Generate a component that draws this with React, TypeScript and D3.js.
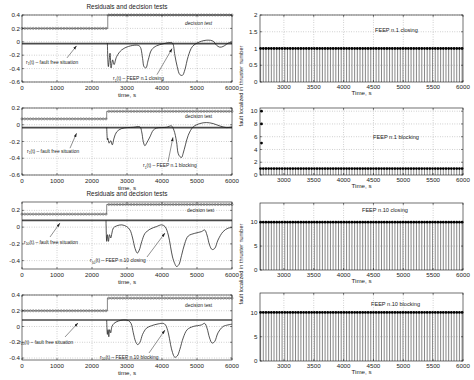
import React from 'react';
import * as d3 from 'd3';

const FONT = '"Liberation Sans", Arial, Helvetica, sans-serif';

// ---------- data ----------
const leftTimeTicks = [0, 1000, 2000, 3000, 4000, 5000, 6000];
const rightTimeTicks = [3000, 3500, 4000, 4500, 5000, 5500, 6000];

const r1Closing: [number, number][] = [
  [2440, -0.02], [2468, -0.37], [2515, -0.17], [2545, -0.39], [2590, -0.27], [2630, -0.34],
  [2705, -0.22], [2850, -0.12], [3040, -0.07], [3275, -0.05], [3370, -0.07], [3446, -0.25],
  [3485, -0.37], [3540, -0.39], [3607, -0.27], [3702, -0.12], [3845, -0.06], [4035, -0.03],
  [4225, -0.01], [4300, -0.02], [4367, -0.2], [4434, -0.37], [4510, -0.49], [4585, -0.5],
  [4652, -0.42], [4747, -0.22], [4870, -0.07], [5080, 0.0], [5316, 0.025], [5460, 0.01],
  [5555, -0.05], [5650, -0.08], [5745, -0.07], [5935, -0.01], [6000, -0.02],
];

const r1Blocking: [number, number][] = [
  [2420, -0.03], [2440, -0.18], [2450, -0.16], [2490, -0.22], [2535, -0.19], [2580, -0.24],
  [2630, -0.16], [2705, -0.085], [2850, -0.045], [3180, -0.03], [3370, -0.026], [3420, -0.085],
  [3465, -0.2], [3510, -0.25], [3560, -0.22], [3655, -0.145], [3750, -0.065], [3845, -0.04],
  [4130, -0.03], [4270, -0.014], [4340, -0.065], [4415, -0.2], [4460, -0.34], [4510, -0.38],
  [4560, -0.39], [4605, -0.34], [4670, -0.24], [4750, -0.125], [4890, -0.026], [5080, 0.014],
  [5270, 0.026], [5460, 0.014], [5650, -0.014], [5840, -0.034], [6000, -0.026],
];

const r10Closing: [number, number][] = [
  [2400, 0.08], [2420, -0.17], [2440, -0.09], [2470, -0.17], [2500, -0.09], [2535, -0.13],
  [2570, -0.07], [2610, -0.01], [2705, 0.015], [2850, 0.027], [2990, 0.007], [3085, -0.034],
  [3160, -0.13], [3230, -0.255], [3295, -0.31], [3350, -0.275], [3420, -0.175], [3515, -0.074],
  [3655, -0.025], [3845, 0.007], [3990, 0.027], [4085, 0.007], [4180, -0.094], [4245, -0.235],
  [4300, -0.356], [4365, -0.436], [4415, -0.47], [4480, -0.45], [4560, -0.336], [4650, -0.195],
  [4750, -0.106], [4935, -0.074], [5125, -0.054], [5220, -0.034], [5285, -0.094], [5360, -0.215],
  [5430, -0.267], [5505, -0.255], [5600, -0.154], [5745, -0.054], [5885, -0.013], [6000, -0.005],
];

const r10Blocking: [number, number][] = [
  [2420, 0.08], [2440, -0.1], [2460, -0.04], [2480, -0.13], [2505, -0.04], [2535, -0.08],
  [2570, 0.0], [2630, 0.04], [2755, 0.07], [2900, 0.083], [3040, 0.075], [3115, 0.04],
  [3180, -0.08], [3245, -0.19], [3305, -0.23], [3370, -0.2], [3445, -0.1], [3560, -0.02],
  [3700, 0.01], [3890, 0.033], [4035, 0.04], [4100, 0.02], [4180, -0.08], [4245, -0.23],
  [4300, -0.33], [4365, -0.39], [4435, -0.375], [4510, -0.29], [4605, -0.145], [4720, -0.04],
  [4890, 0.0], [5125, 0.02], [5220, 0.04], [5285, -0.02], [5360, -0.145], [5430, -0.21],
  [5505, -0.19], [5600, -0.08], [5745, 0.0], [5885, 0.02], [6000, 0.03],
];

const decisionBefore = [0.2, 0.07, 0.155, 0.2];
const decisionAfter = [0.4, 0.16, 0.27, 0.36];
const decisionStep = [2450, 2420, 2420, 2440];
const faultFreeLevel = [-0.027, -0.034, 0.08, 0.083];

const decisionSampleTimes = [
  0, 80, 160, 240, 320, 400, 480, 560, 640, 720, 800, 880, 960, 1040, 1120, 1200, 1280, 1360,
  1440, 1520, 1600, 1680, 1760, 1840, 1920, 2000, 2080, 2160, 2240, 2320, 2400, 2480, 2560,
  2640, 2720, 2800, 2880, 2960, 3040, 3120, 3200, 3280, 3360, 3440, 3520, 3600, 3680, 3760,
  3840, 3920, 4000, 4080, 4160, 4240, 4320, 4400, 4480, 4560, 4640, 4720, 4800, 4880, 4960,
  5040, 5120, 5200, 5280, 5360, 5440, 5520, 5600, 5680, 5760, 5840, 5920, 6000,
];

const stemTimes = [
  2610, 2655, 2700, 2745, 2790, 2835, 2880, 2925, 2970, 3015, 3060, 3105, 3150, 3195, 3240,
  3285, 3330, 3375, 3420, 3465, 3510, 3555, 3600, 3645, 3690, 3735, 3780, 3825, 3870, 3915,
  3960, 4005, 4050, 4095, 4140, 4185, 4230, 4275, 4320, 4365, 4410, 4455, 4500, 4545, 4590,
  4635, 4680, 4725, 4770, 4815, 4860, 4905, 4950, 4995, 5040, 5085, 5130, 5175, 5220, 5265,
  5310, 5355, 5400, 5445, 5490, 5535, 5580, 5625, 5670, 5715, 5760, 5805, 5850, 5895, 5940, 5985,
];
const localizedThruster = [1, 1, 10, 10];
const blockingEarlyDetections: [number, number][] = [[2625, 10], [2625, 8], [2625, 5]];

const rightLabels = ['FEEP n.1 closing', 'FEEP n.1 blocking', 'FEEP n.10 closing', 'FEEP n.10 blocking'];

// ---------- layout (styles) ----------
const leftX = d3.scaleLinear().domain([0, 6000]).range([22, 232]);
const rightX = d3.scaleLinear().domain([2600, 6000]).range([260, 463]);

const leftPanels = [
  { top: 15, bottom: 82, domain: [-0.6, 0.4], ticks: [-0.6, -0.4, -0.2, 0, 0.2, 0.4], curve: r1Closing, sub: '1',
    ffText: [114, -0.3], ffArrow: [[1286, -0.24], [1560, -0.06]],
    fText: [2600, -0.55], fLabel: ' – FEEP n.1 closing', fArrow: [[3857, -0.49], [4290, -0.1]],
    dText: [4657, 0.28], italic: true, title: 'Residuals and decision tests' },
  { top: 108, bottom: 175, domain: [-0.6, 0.2], ticks: [-0.6, -0.4, -0.2, 0, 0.2], curve: r1Blocking, sub: '1',
    ffText: [143, -0.315], ffArrow: [[1371, -0.28], [1560, -0.1]],
    fText: [3457, -0.49], fLabel: ' – FEEP n.1 blocking', fArrow: [[4171, -0.445], [4314, -0.15]],
    dText: [4657, 0.1], italic: false, title: '' },
  { top: 202, bottom: 269, domain: [-0.5, 0.3], ticks: [-0.4, -0.2, 0, 0.2], curve: r10Closing, sub: '10',
    ffText: [57, -0.178], ffArrow: [[800, -0.118], [1086, 0.05]],
    fText: [1943, -0.4], fLabel: ' – FEEP n.10 closing', fArrow: [[3571, -0.357], [4086, -0.07]],
    dText: [4714, 0.2], italic: false, title: 'Residuals and decision tests' },
  { top: 295, bottom: 360, domain: [-0.425, 0.4], ticks: [-0.4, -0.2, 0, 0.2, 0.4], curve: r10Blocking, sub: '10',
    ffText: [-80, -0.196], ffArrow: [[1229, -0.133], [1600, 0.045]],
    fText: [2229, -0.387], fLabel: ' – FEEP n.10 blocking', fArrow: [[3629, -0.336], [4086, -0.044]],
    dText: [4657, 0.27], italic: false, title: '' },
];

const rightPanels = [
  { top: 15, bottom: 82, domain: [0, 2], ticks: [0, 0.5, 1, 1.5, 2], label: [4526, 1.55] },
  { top: 108, bottom: 175, domain: [0, 10.5], ticks: [0, 2, 4, 6, 8, 10], label: [4493, 5.95] },
  { top: 203, bottom: 270, domain: [0, 14], ticks: [0, 5, 10], label: [4308, 12.5] },
  { top: 293, bottom: 361, domain: [0, 14], ticks: [0, 5, 10], label: [4459, 11.7] },
];

const TICK_FS = 6.2;
const ANN_FS = 4.9;
const GRID = { stroke: '#8a8a8a', strokeWidth: 0.5, strokeDasharray: '0.8 1.6' };

function LeftPanel({ p, i }: { p: any; i: number }) {
  const y = d3.scaleLinear().domain(p.domain).range([p.bottom, p.top]);
  const x = leftX;
  const line = d3.line<[number, number]>().x(d => x(d[0])).y(d => y(d[1])).curve(d3.curveCatmullRom.alpha(0.5));
  const step = decisionStep[i];
  const dPath = d3.line<[number, number]>().x(d => x(d[0])).y(d => y(d[1]))([
    [0, decisionBefore[i]], [step, decisionBefore[i]], [step, decisionAfter[i]], [6000, decisionAfter[i]],
  ]);
  const [x0, x1] = x.range();
  const cx = (x0 + x1) / 2;
  return (
    <g>
      {p.title && (
        <text x={cx} y={p.top - 6} textAnchor="middle" fontSize={6.4} fill="#222">{p.title}</text>
      )}
      {leftTimeTicks.slice(1, -1).map(t => (
        <line key={'gx' + t} x1={x(t)} x2={x(t)} y1={p.top} y2={p.bottom} {...GRID} />
      ))}
      {p.ticks.map((v: number) => (
        <line key={'gy' + v} x1={x0} x2={x1} y1={y(v)} y2={y(v)} {...GRID} />
      ))}
      <line x1={x0} x2={x1} y1={y(faultFreeLevel[i])} y2={y(faultFreeLevel[i])} stroke="#4a4a4a" strokeWidth={1.7} />
      <path d={dPath || ''} fill="none" stroke="#555" strokeWidth={0.7} />
      {decisionSampleTimes.map(t => (
        <circle key={'dm' + t} cx={x(t)} cy={y(t < step ? decisionBefore[i] : decisionAfter[i])} r={1.1}
          fill="none" stroke="#555" strokeWidth={0.5} />
      ))}
      <path d={line(p.curve) || ''} fill="none" stroke="#1a1a1a" strokeWidth={0.75} />
      <rect x={x0} y={p.top} width={x1 - x0} height={p.bottom - p.top} fill="none" stroke="#111" strokeWidth={0.6} />
      {leftTimeTicks.map(t => (
        <g key={'xt' + t}>
          <line x1={x(t)} x2={x(t)} y1={p.bottom} y2={p.bottom - 2} stroke="#111" strokeWidth={0.5} />
          <line x1={x(t)} x2={x(t)} y1={p.top} y2={p.top + 2} stroke="#111" strokeWidth={0.5} />
          <text x={x(t)} y={p.bottom + 7.5} textAnchor="middle" fontSize={TICK_FS} fill="#222">{t}</text>
        </g>
      ))}
      {p.ticks.map((v: number) => (
        <g key={'yt' + v}>
          <line x1={x0} x2={x0 + 2} y1={y(v)} y2={y(v)} stroke="#111" strokeWidth={0.5} />
          <line x1={x1} x2={x1 - 2} y1={y(v)} y2={y(v)} stroke="#111" strokeWidth={0.5} />
          <text x={x0 - 2} y={y(v) + 2.1} textAnchor="end" fontSize={TICK_FS} fill="#222">{String(v)}</text>
        </g>
      ))}
      <text x={cx} y={p.bottom + 14.5} textAnchor="middle" fontSize={TICK_FS} fill="#222">time, s</text>
      <text x={x(p.ffText[0])} y={y(p.ffText[1]) + 1.7} fontSize={ANN_FS} fill="#222">
        r<tspan fontSize={3.4} dy={1.2}>{p.sub}</tspan><tspan dy={-1.2}>(t) – fault free situation</tspan>
      </text>
      <line x1={x(p.ffArrow[0][0])} y1={y(p.ffArrow[0][1])} x2={x(p.ffArrow[1][0])} y2={y(p.ffArrow[1][1])}
        stroke="#222" strokeWidth={0.5} markerEnd="url(#arrow)" />
      <text x={x(p.fText[0])} y={y(p.fText[1]) + 1.7} fontSize={ANN_FS} fill="#222">
        r<tspan fontSize={3.4} dy={1.2}>{p.sub}</tspan><tspan dy={-1.2}>(t){p.fLabel}</tspan>
      </text>
      <line x1={x(p.fArrow[0][0])} y1={y(p.fArrow[0][1])} x2={x(p.fArrow[1][0])} y2={y(p.fArrow[1][1])}
        stroke="#222" strokeWidth={0.5} markerEnd="url(#arrow)" />
      <text x={x(p.dText[0])} y={y(p.dText[1]) + 1.7} fontSize={ANN_FS} fill="#222"
        fontStyle={p.italic ? 'italic' : 'normal'}>decision test</text>
    </g>
  );
}

function RightPanel({ p, i }: { p: any; i: number }) {
  const y = d3.scaleLinear().domain(p.domain).range([p.bottom, p.top]);
  const x = rightX;
  const [x0, x1] = x.range();
  const cx = (x0 + x1) / 2;
  const level = localizedThruster[i];
  const extra = i === 1 ? blockingEarlyDetections : [];
  return (
    <g>
      {rightTimeTicks.slice(0, -1).map(t => (
        <line key={'gx' + t} x1={x(t)} x2={x(t)} y1={p.top} y2={p.bottom} {...GRID} />
      ))}
      {p.ticks.slice(1).map((v: number) => (
        <line key={'gy' + v} x1={x0} x2={x1} y1={y(v)} y2={y(v)} {...GRID} />
      ))}
      {stemTimes.map(t => (
        <line key={'st' + t} x1={x(t)} x2={x(t)} y1={y(0)} y2={y(level)} stroke="#555" strokeWidth={0.7} />
      ))}
      {stemTimes.map(t => (
        <circle key={'sm' + t} cx={x(t)} cy={y(level)} r={1.4} fill="#000" />
      ))}
      {extra.map((d, k) => (
        <circle key={'ex' + k} cx={x(d[0])} cy={y(d[1])} r={1.4} fill="#000" />
      ))}
      <rect x={x0} y={p.top} width={x1 - x0} height={p.bottom - p.top} fill="none" stroke="#111" strokeWidth={0.6} />
      {rightTimeTicks.map(t => (
        <g key={'xt' + t}>
          <line x1={x(t)} x2={x(t)} y1={p.bottom} y2={p.bottom - 2} stroke="#111" strokeWidth={0.5} />
          <line x1={x(t)} x2={x(t)} y1={p.top} y2={p.top + 2} stroke="#111" strokeWidth={0.5} />
          <text x={x(t)} y={p.bottom + 6.5} textAnchor="middle" fontSize={TICK_FS} fill="#222">{t}</text>
        </g>
      ))}
      {p.ticks.map((v: number) => (
        <g key={'yt' + v}>
          <line x1={x0} x2={x0 + 2} y1={y(v)} y2={y(v)} stroke="#111" strokeWidth={0.5} />
          <line x1={x1} x2={x1 - 2} y1={y(v)} y2={y(v)} stroke="#111" strokeWidth={0.5} />
          <text x={x0 - 2.5} y={y(v) + 2.1} textAnchor="end" fontSize={TICK_FS} fill="#222">{String(v)}</text>
        </g>
      ))}
      <text x={cx} y={p.bottom + 12.5} textAnchor="middle" fontSize={TICK_FS} fill="#222">Time, s</text>
      <text x={x(p.label[0])} y={y(p.label[1]) + 2} fontSize={5.6} fill="#222">{rightLabels[i]}</text>
    </g>
  );
}

export default function App() {
  return (
    <svg width={474} height={380} viewBox="0 0 474 380"
      style={{ position: 'absolute', left: 0, top: 0, background: '#fff', fontFamily: FONT }}>
      <defs>
        <marker id="arrow" viewBox="0 0 6 4" refX={6} refY={2} markerWidth={4} markerHeight={3}
          markerUnits="userSpaceOnUse" orient="auto">
          <path d="M0,0 L6,2 L0,4 z" fill="#222" />
        </marker>
      </defs>
      <rect x={0} y={0} width={474} height={380} fill="#fff" />
      {leftPanels.map((p, i) => <LeftPanel key={'l' + i} p={p} i={i} />)}
      {rightPanels.map((p, i) => <RightPanel key={'r' + i} p={p} i={i} />)}
      <text transform="translate(242.5,86) rotate(-90)" textAnchor="middle" fontSize={5.6} fill="#222">
        fault localized in thruster number
      </text>
      <text transform="translate(242.5,264) rotate(-90)" textAnchor="middle" fontSize={5.6} fill="#222">
        fault localized in thruster number
      </text>
    </svg>
  );
}
